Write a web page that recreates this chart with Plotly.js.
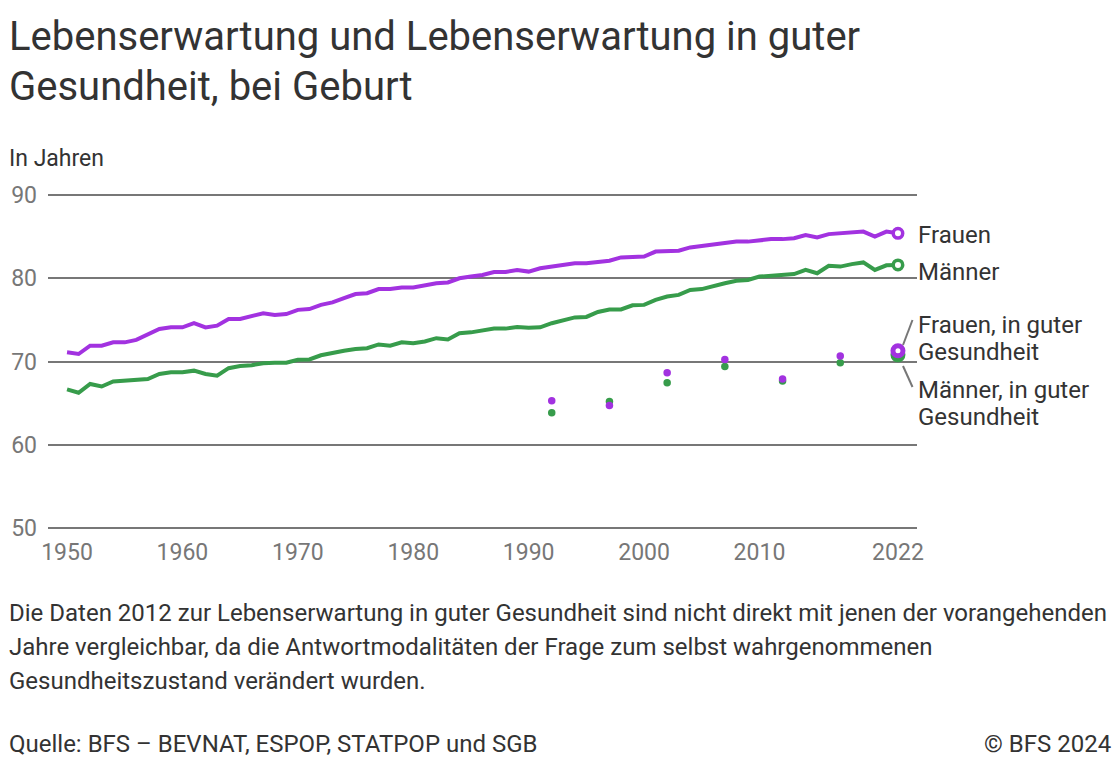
<!DOCTYPE html>
<html>
<head>
<meta charset="utf-8">
<script src="https://cdn.plot.ly/plotly-3.0.1.min.js"></script>
<style>html,body{margin:0;padding:0;background:#fff;}#chart{width:1120px;height:780px;}</style>
</head>
<body>
<div id="chart"></div>
<script>
// ---- data ----
const years = [1950,1951,1952,1953,1954,1955,1956,1957,1958,1959,
  1960,1961,1962,1963,1964,1965,1966,1967,1968,1969,
  1970,1971,1972,1973,1974,1975,1976,1977,1978,1979,
  1980,1981,1982,1983,1984,1985,1986,1987,1988,1989,
  1990,1991,1992,1993,1994,1995,1996,1997,1998,1999,
  2000,2001,2002,2003,2004,2005,2006,2007,2008,2009,
  2010,2011,2012,2013,2014,2015,2016,2017,2018,2019,
  2020,2021,2022];
const frauen = [71.1,70.9,71.9,71.9,72.3,72.3,72.6,73.2,73.9,74.1,
  74.1,74.6,74.1,74.3,75.1,75.1,75.4,75.8,75.6,75.7,
  76.2,76.3,76.8,77.1,77.6,78.1,78.2,78.7,78.7,78.9,
  78.9,79.2,79.4,79.5,80.0,80.2,80.4,80.75,80.75,81.0,
  80.8,81.2,81.4,81.5,81.8,81.8,81.95,82.1,82.5,82.5,
  82.6,83.2,83.2,83.3,83.7,83.9,84.0,84.3,84.4,84.4,
  84.6,84.7,84.7,84.8,85.2,84.9,85.3,85.4,85.4,85.6,
  85.0,85.6,85.4];
const maenner = [66.65,66.25,67.3,67.0,67.6,67.7,67.7,67.9,68.5,68.7,
  68.7,68.9,68.5,68.3,69.2,69.45,69.55,69.8,69.85,69.85,
  70.2,70.25,70.75,71.05,71.3,71.5,71.6,72.05,71.9,72.3,
  72.2,72.4,72.8,72.65,73.4,73.5,73.7,73.95,73.95,74.15,
  74.05,74.1,74.6,75.0,75.3,75.35,75.95,76.25,76.25,76.75,
  76.8,77.4,77.8,78.0,78.6,78.7,79.1,79.4,79.7,79.8,
  80.2,80.3,80.5,80.5,81.0,80.6,81.5,81.4,81.7,81.9,
  81.0,81.55,81.6];
const healthYears = [1992,1997,2002,2007,2012,2017,2022];
const frauenHealth = [65.3,64.7,68.65,70.25,67.9,70.65,71.3];
const maennerHealth = [63.85,65.2,67.45,69.4,67.65,69.85,70.8];
const xTickVals = [1950,1960,1970,1980,1990,2000,2010,2022];
const xTickText = ['1950','1960','1970','1980','1990','2000','2010','2022'];
const yTickVals = [50,60,70,80,90];

const titleLines = ['Lebenserwartung und Lebenserwartung in guter','Gesundheit, bei Geburt'];
const yUnit = 'In Jahren';
const seriesLabels = ['Frauen','Männer','Frauen, in guter','Gesundheit','Männer, in guter','Gesundheit'];
const noteLines = [
  'Die Daten 2012 zur Lebenserwartung in guter Gesundheit sind nicht direkt mit jenen der vorangehenden',
  'Jahre vergleichbar, da die Antwortmodalitäten der Frage zum selbst wahrgenommenen',
  'Gesundheitszustand verändert wurden.'
];
const sourceText = 'Quelle: BFS – BEVNAT, ESPOP, STATPOP und SGB';
const copyText = '© BFS 2024';

// ---- styles ----
const PURPLE = '#a232e0';
const GREEN = '#379c4b';
const FONT = 'Roboto, "Noto Sans", sans-serif';
const TXT = '#333333';
const GRID = '#777777';

const L = 48, R = 917, T = 193, B = 530;
const W = 1120, H = 780;
const Y_RANGE = [49.76, 90.24];
const px = x => (x - L) / (R - L);
const py = y => (B - y) / (B - T);

function ann(text, x, y, size, opts) {
  return Object.assign({
    text: text, xref: 'paper', yref: 'paper', x: px(x), y: py(y),
    xanchor: 'left', yanchor: 'middle', showarrow: false,
    font: {family: FONT, size: size, color: TXT}
  }, opts || {});
}

const last = years.length - 1;
const lastH = healthYears.length - 1;

function healthMarker(color) {
  return {symbol: 'circle', opacity: 1,
    size: healthYears.map((v, i) => i === lastH ? 10 : 7.5),
    color: healthYears.map((v, i) => i === lastH ? '#ffffff' : color),
    line: {color: color, width: healthYears.map((v, i) => i === lastH ? 5 : 0)}};
}

const traces = [
  {x: years, y: maenner, mode: 'lines', line: {color: GREEN, width: 4}, hoverinfo: 'skip'},
  {x: years, y: frauen, mode: 'lines', line: {color: PURPLE, width: 4}, hoverinfo: 'skip'},
  {x: [years[last]], y: [maenner[last]], mode: 'markers',
   marker: {symbol: 'circle', size: 9.5, opacity: 1, color: '#ffffff', line: {color: GREEN, width: 3.5}}},
  {x: [years[last]], y: [frauen[last]], mode: 'markers',
   marker: {symbol: 'circle', size: 9.5, opacity: 1, color: '#ffffff', line: {color: PURPLE, width: 3.5}}},
  {x: healthYears, y: maennerHealth, mode: 'markers', marker: healthMarker(GREEN)},
  {x: healthYears, y: frauenHealth, mode: 'markers', marker: healthMarker(PURPLE)}
];

const annotations = [
  ann(titleLines[0], 7, 36, 40),
  ann(titleLines[1], 7, 86, 40),
  ann(yUnit, 7, 158, 23),
  ann(seriesLabels[0], 916, 234.5, 24),
  ann(seriesLabels[1], 916, 272, 24),
  ann(seriesLabels[2], 916, 324.5, 24),
  ann(seriesLabels[3], 916, 352, 24),
  ann(seriesLabels[4], 916, 390, 24),
  ann(seriesLabels[5], 916, 417, 24),
  ann(noteLines[0], 7, 613, 24),
  ann(noteLines[1], 7, 647, 24),
  ann(noteLines[2], 7, 681, 24),
  ann(sourceText, 7, 744, 24),
  ann(copyText, 1113, 744, 24, {xanchor: 'right'})
];

const shapes = [
  {type: 'line', xref: 'paper', yref: 'paper', x0: px(903), y0: py(345), x1: px(912.5), y1: py(320),
   line: {color: GRID, width: 2}},
  {type: 'line', xref: 'paper', yref: 'paper', x0: px(903), y0: py(366), x1: px(912.5), y1: py(387),
   line: {color: GRID, width: 2}}
];

const layout = {
  width: W, height: H,
  margin: {l: L, r: W - R, t: T, b: H - B, pad: 0},
  paper_bgcolor: '#ffffff', plot_bgcolor: '#ffffff',
  showlegend: false,
  font: {family: FONT, color: TXT},
  xaxis: {
    range: [1948.35, 2023.65], tickmode: 'array', tickvals: xTickVals, ticktext: xTickText,
    showgrid: false, zeroline: false, showline: false, ticks: '',
    ticklabelstandoff: 6,
    tickfont: {family: FONT, size: 23, color: GRID}, fixedrange: true
  },
  yaxis: {
    range: Y_RANGE, tickmode: 'array', tickvals: yTickVals,
    showgrid: true, gridcolor: GRID, gridwidth: 2, zeroline: false, showline: false, ticks: '',
    ticklabelstandoff: 10,
    tickfont: {family: FONT, size: 23, color: GRID}, fixedrange: true
  },
  annotations: annotations,
  shapes: shapes
};

Plotly.newPlot('chart', traces, layout, {displayModeBar: false, staticPlot: true});
</script>
</body>
</html>
